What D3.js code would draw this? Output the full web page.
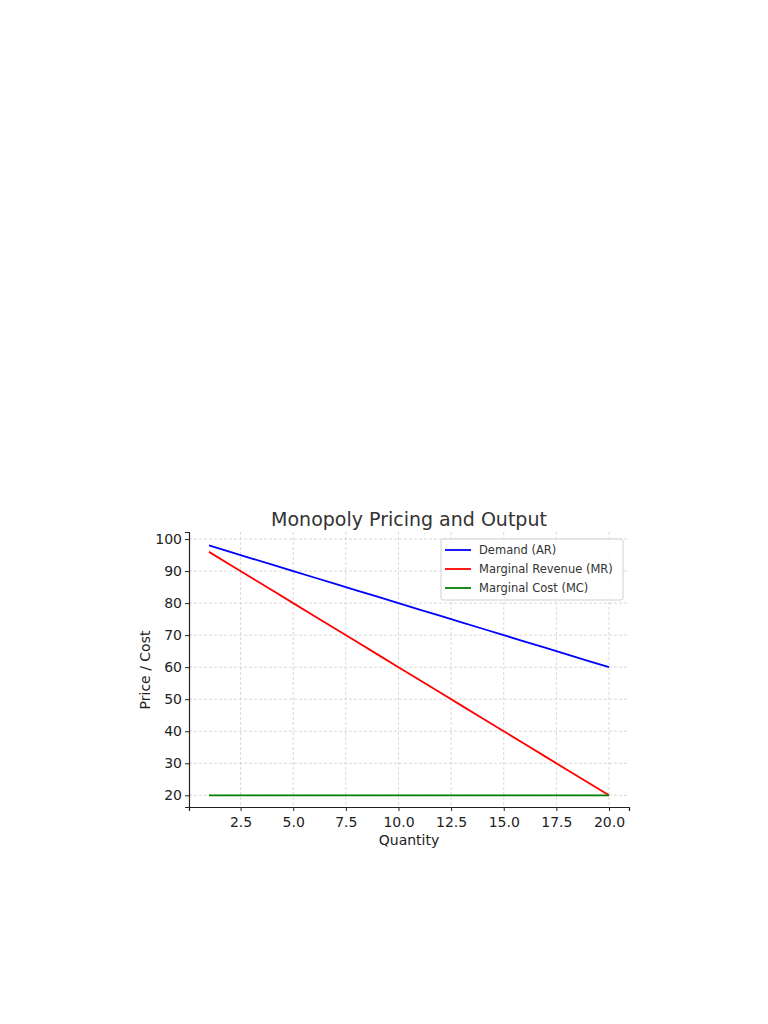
<!DOCTYPE html>
<html><head><meta charset="utf-8">
<script src="https://cdn.jsdelivr.net/npm/d3@7"></script>
<style>body{margin:0;background:#fff}</style>
</head><body>
<svg id="chart" width="768" height="1024"></svg>
<script>
// data
const quantity = [1,2,3,4,5,6,7,8,9,10,11,12,13,14,15,16,17,18,19,20];
const demand = [98,96,94,92,90,88,86,84,82,80,78,76,74,72,70,68,66,64,62,60];
const marginalRevenue = [96,92,88,84,80,76,72,68,64,60,56,52,48,44,40,36,32,28,24,20];
const marginalCost = [20,20,20,20,20,20,20,20,20,20,20,20,20,20,20,20,20,20,20,20];
const xTicks = [2.5,5,7.5,10,12.5,15,17.5,20];
const yTicks = [20,30,40,50,60,70,80,90,100];
const seriesNames = ["Demand (AR)", "Marginal Revenue (MR)", "Marginal Cost (MC)"];
const seriesColors = ["#0000ff", "#ff0000", "#008000"];

const font = "'DejaVu Sans', sans-serif";
const svg = d3.select("#chart");
const plotLeft = 189, plotRight = 629, plotTop = 532, plotBottom = 807;

const x = d3.scaleLinear().domain([0.05, 20.95]).range([plotLeft, plotRight]);
const y = d3.scaleLinear().domain([16.35, 102.2]).range([plotBottom, plotTop]);

// grid
svg.append("g").selectAll("line").data(xTicks).enter().append("line")
    .attr("x1", d => x(d)).attr("x2", d => x(d)).attr("y1", plotTop).attr("y2", plotBottom)
    .attr("stroke", "#cfcfcf").attr("stroke-dasharray", "3,2").attr("stroke-width", 0.8);
svg.append("g").selectAll("line").data(yTicks).enter().append("line")
    .attr("x1", plotLeft).attr("x2", plotRight).attr("y1", d => y(d)).attr("y2", d => y(d))
    .attr("stroke", "#cfcfcf").attr("stroke-dasharray", "3,2").attr("stroke-width", 0.8);

// axes
const xAxis = svg.append("g").attr("transform", `translate(0,${plotBottom})`)
    .call(d3.axisBottom(x).tickValues(xTicks).tickFormat(d3.format(".1f")).tickSizeOuter(0).tickSize(4));
const yAxis = svg.append("g").attr("transform", `translate(${plotLeft},0)`)
    .call(d3.axisLeft(y).tickValues(yTicks).tickSizeOuter(0).tickSize(4));
[xAxis, yAxis].forEach(a => {
    a.selectAll("text").attr("font-family", font).attr("font-size", 14).attr("fill", "#222");
    a.selectAll("line").attr("stroke", "#222");
    a.select(".domain").attr("stroke", "#222").attr("stroke-width", 1.2);
});
xAxis.selectAll("text").attr("dy", "0.95em");

// lines
const line = d3.line().x((d, i) => x(quantity[i])).y(d => y(d));
[demand, marginalRevenue, marginalCost].forEach((s, i) => {
    svg.append("path").datum(s).attr("d", line).attr("fill", "none")
        .attr("stroke", seriesColors[i]).attr("stroke-width", 1.8);
});

// titles
svg.append("text").attr("x", 409).attr("y", 526).attr("text-anchor", "middle")
    .attr("font-family", font).attr("font-size", 19).attr("fill", "#333").text("Monopoly Pricing and Output");
svg.append("text").attr("x", 409).attr("y", 845).attr("text-anchor", "middle")
    .attr("font-family", font).attr("font-size", 14).attr("fill", "#222").text("Quantity");
svg.append("text").attr("transform", "translate(150,670) rotate(-90)").attr("text-anchor", "middle")
    .attr("font-family", font).attr("font-size", 14).attr("fill", "#222").text("Price / Cost");

// legend
const lg = svg.append("g").attr("transform", "translate(441,539)");
lg.append("rect").attr("width", 182).attr("height", 61).attr("rx", 2)
    .attr("fill", "#fff").attr("fill-opacity", 0.85).attr("stroke", "#d0d0d0");
seriesNames.forEach((n, i) => {
    const yy = 11 + i * 19;
    lg.append("line").attr("x1", 4).attr("x2", 30).attr("y1", yy).attr("y2", yy)
        .attr("stroke", seriesColors[i]).attr("stroke-width", 1.8);
    lg.append("text").attr("x", 38).attr("y", yy + 4).attr("font-family", font)
        .attr("font-size", 11.5).attr("fill", "#333").text(n);
});
</script>
</body></html>
